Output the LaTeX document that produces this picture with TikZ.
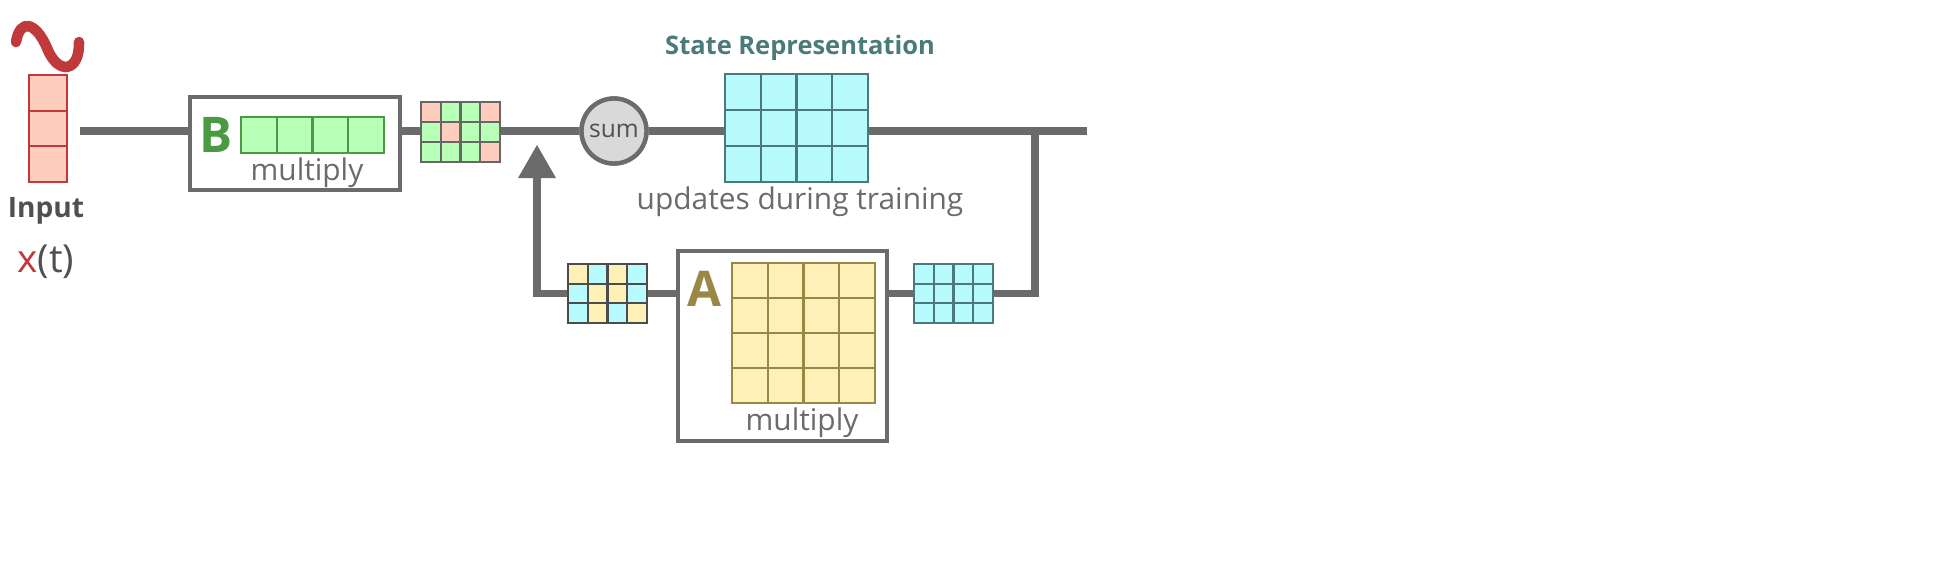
\documentclass[tikz,border=0pt]{standalone}
\usepackage{fontspec}
\setmainfont{Open Sans}
\definecolor{lg}{HTML}{6B6B6B}
\definecolor{rd}{HTML}{C0393B}
\definecolor{pk}{HTML}{FFCDBD}
\definecolor{gf}{HTML}{B8FFB8}
\definecolor{gs}{HTML}{4A9A44}
\definecolor{cy}{HTML}{B8FBFF}
\definecolor{tl}{HTML}{4A7A7A}
\definecolor{yf}{HTML}{FFF0B8}
\definecolor{ol}{HTML}{9A8645}
\definecolor{tx}{HTML}{505050}
\newcommand\cellgrid[7]{%
  \foreach \c [count=\i from 0] in {#7} {%
    \pgfmathtruncatemacro\cx{mod(\i,#5)}%
    \pgfmathtruncatemacro\cyy{int(\i/#5)}%
    \filldraw[fill=\c,draw=#6,line width=1.2pt] ({#1+\cx*#3},{#2+\cyy*#4}) rectangle ++(#3,#4);
  }}
\tikzset{
  conn/.style={lg,line width=4.5pt},
  box/.style={draw=lg,line width=2.5pt,fill=white,inner sep=0,rectangle},
  gridn/.style={inner sep=0,rectangle},
  lbl/.style={text=lg,font=\fontsize{17}{20}\selectfont},
}
\begin{document}
\begin{tikzpicture}[x=0.02cm,y=-0.02cm]
\useasboundingbox (0,0) rectangle (1956,572);
% nodes (boxes)
\node[box,minimum width=4.2cm,minimum height=1.86cm] (B) at (295,143.5) {};
\node[box,minimum width=4.18cm,minimum height=3.8cm] (A) at (782.5,346) {};
\node[circle,draw=lg,line width=2.5pt,fill=black!15,minimum size=1.3cm,inner sep=0,font=\fontsize{14}{16}\selectfont,text=tx] (sum) at (614,131) {sum};
\node[gridn,minimum width=2.86cm,minimum height=2.16cm] (state) at (796.5,128) {};
\node[gridn,minimum width=1.58cm,minimum height=1.2cm] (m1) at (460.5,131) {};
\node[gridn,minimum width=1.58cm,minimum height=1.2cm] (m2) at (607.5,293.5) {};
\node[gridn,minimum width=1.58cm,minimum height=1.2cm] (m3) at (953.5,293.5) {};
\coordinate (start) at (80,131);
\coordinate (end) at (1087,131);
\coordinate (j) at (1035,131);
\coordinate (tipbase) at (537,178);
% connectors
\draw[conn] (start) -- (start -| B.west);
\draw[conn] (B.east |- start) -- (m1.west);
\draw[conn] (m1.east) -- (sum.west);
\draw[conn] (sum.east) -- (sum.east -| state.west);
\draw[conn] (state.east |- end) -- (end);
\draw[conn] (j) |- (m3.east);
\draw[conn] (m3.west) -- (m3.west -| A.east);
\draw[conn] (A.west |- m2.east) -- (m2.east);
\draw[conn] (m2.west) -| (tipbase);
\fill[lg] (518,178) -- (556,178) -- (537,145) -- cycle;
% redraw boxes on top
\node[box,minimum width=4.2cm,minimum height=1.86cm] at (B) {};
\node[box,minimum width=4.18cm,minimum height=3.8cm] at (A) {};
\node[circle,draw=lg,line width=2.5pt,fill=black!15,minimum size=1.3cm,inner sep=0,font=\fontsize{14}{16}\selectfont,text=tx] at (sum) {sum};
% input
\draw[rd,line width=6pt,line cap=round] (16,42) .. controls (20,18) and (36,22) .. (47,48) .. controls (58,76) and (80,72) .. (79,42);
\cellgrid{29}{75}{38}{35.7}{1}{rd}{pk,pk,pk}
\node[text=tx,font=\bfseries\fontsize{16}{18}\selectfont] (inp) at (46,211) {Input};
\node[text=tx,font=\fontsize{22}{24}\selectfont] (xt) at (46,262) {\textcolor{rd}{x}(t)};
% B
\node[text=gs,font=\bfseries\fontsize{28}{30}\selectfont] (Bl) at (216,135) {B};
\cellgrid{241}{117}{35.75}{36}{4}{gs}{gf,gf,gf,gf}
\node[lbl] (bm) at (307,173) {multiply};
% m1
\cellgrid{421}{102}{19.75}{20}{4}{black!60}{pk,gf,gf,pk,gf,pk,gf,gf,gf,gf,gf,pk}
% state
\node[text=tl,font=\bfseries\fontsize{14.5}{18}\selectfont] (st) at (800,48) {State Representation};
\cellgrid{725}{74}{35.75}{36}{4}{tl}{cy,cy,cy,cy,cy,cy,cy,cy,cy,cy,cy,cy}
\node[lbl] (up) at (800,202) {updates during training};
% A
\node[text=ol,font=\bfseries\fontsize{28}{30}\selectfont] (Al) at (704,289) {A};
\cellgrid{732}{263}{35.75}{35}{4}{ol}{yf,yf,yf,yf,yf,yf,yf,yf,yf,yf,yf,yf,yf,yf,yf,yf}
\node[lbl] (am) at (802,423) {multiply};
% m2, m3
\cellgrid{568}{264}{19.75}{19.7}{4}{black!70}{yf,cy,yf,cy,cy,yf,yf,cy,cy,yf,cy,yf}
\cellgrid{914}{264}{19.75}{19.7}{4}{tl}{cy,cy,cy,cy,cy,cy,cy,cy,cy,cy,cy,cy}
\end{tikzpicture}
\end{document}
